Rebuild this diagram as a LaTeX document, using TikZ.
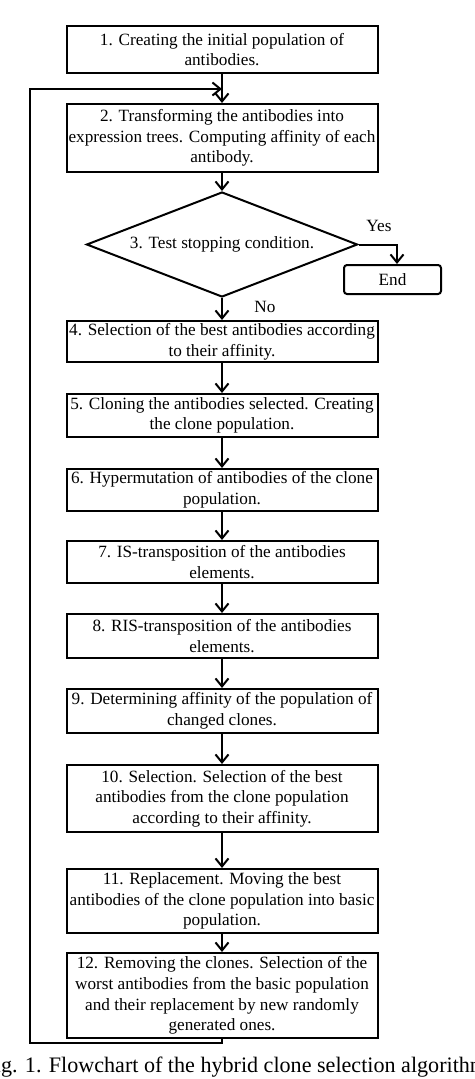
\documentclass[tikz,border=0pt]{standalone}
\usepackage{fontspec}
\setmainfont{Liberation Serif}
\usetikzlibrary{shapes.geometric,arrows.meta}

\begin{document}
\begin{tikzpicture}[x=1pt, y=-1pt, line width=2pt, font=\fontsize{17.2}{20.7}\selectfont,
	stepbox/.style={draw, rectangle, align=center, inner xsep=0pt, inner ysep=0pt, minimum width=311pt},
	test/.style={draw, diamond, aspect=2.58, inner sep=0pt, minimum width=271pt, minimum height=105pt},
	endbox/.style={draw, rectangle, rounded corners=3pt, minimum width=97pt, minimum height=29pt},
	flow/.style={-{Straight Barb[length=8pt, width=13pt]}}]
	\useasboundingbox (0,0) rectangle (474,1079);
	\clip (0,0) rectangle (474,1079);
	% steps
	\node[stepbox, minimum height=47pt] (s1) at (222, 49.5) {1. Creating the initial population of\\antibodies.};
	\node[stepbox, minimum height=68pt] (s2) at (222, 138) {2. Transforming the antibodies into\\expression trees. Computing affinity of each\\antibody.};
	\node[test] (s3) at (222, 244.5) {3. Test stopping condition.};
	\node[endbox] (end) at (392.5, 279.5) {End};
	\node[stepbox, minimum height=41pt] (s4) at (222, 341.5) {4. Selection of the best antibodies according\\to their affinity.};
	\node[stepbox, minimum height=43pt] (s5) at (222, 415.5) {5. Cloning the antibodies selected. Creating\\the clone population.};
	\node[stepbox, minimum height=42pt] (s6) at (222, 490) {6. Hypermutation of antibodies of the clone\\population.};
	\node[stepbox, minimum height=42pt] (s7) at (222, 562) {7. IS-transposition of the antibodies\\elements.};
	\node[stepbox, minimum height=44pt] (s8) at (222, 636) {8. RIS-transposition of the antibodies\\elements.};
	\node[stepbox, minimum height=44pt] (s9) at (222, 711) {9. Determining affinity of the population of\\changed clones.};
	\node[stepbox, minimum height=67pt] (s10) at (222, 798.5) {10. Selection. Selection of the best\\antibodies from the clone population\\according to their affinity.};
	\node[stepbox, minimum height=64pt] (s11) at (222, 901) {11. Replacement. Moving the best\\antibodies of the clone population into basic\\population.};
	\node[stepbox, minimum height=85pt] (s12) at (222, 995.5) {12. Removing the clones. Selection of the\\worst antibodies from the basic population\\and their replacement by new randomly\\generated ones.};
	
	\node (yes) at (379, 226) {Yes};
	\node (no) at (265, 307) {No};
	
	\coordinate (join) at (222, 89);
	\coordinate (lb) at (30, 1043);
	\coordinate (lt) at (30, 89);
	
	\draw[flow] (s1) -- (s2);
	\draw[flow] (s2) -- (s3);
	\draw[flow] (s3.east) -| ([xshift=4.5pt]end.north);
	\draw[flow] (s3) -- (s4);
	\draw[flow] (s4) -- (s5);
	\draw[flow] (s5) -- (s6);
	\draw[flow] (s6) -- (s7);
	\draw[flow] (s7) -- (s8);
	\draw[flow] (s8) -- (s9);
	\draw[flow] (s9) -- (s10);
	\draw[flow] (s10) -- (s11);
	\draw[flow] (s11) -- (s12);
	\draw[flow] (s12.south) |- (lb) -- (lt) -- (join);
	
	% caption
	\node[anchor=base west, inner sep=0pt, font=\fontsize{22.1}{26}\selectfont] (cap) at (-18.4, 1072) {Fig. 1. Flowchart of the hybrid clone selection algorithm.};
\end{tikzpicture}
\end{document}
